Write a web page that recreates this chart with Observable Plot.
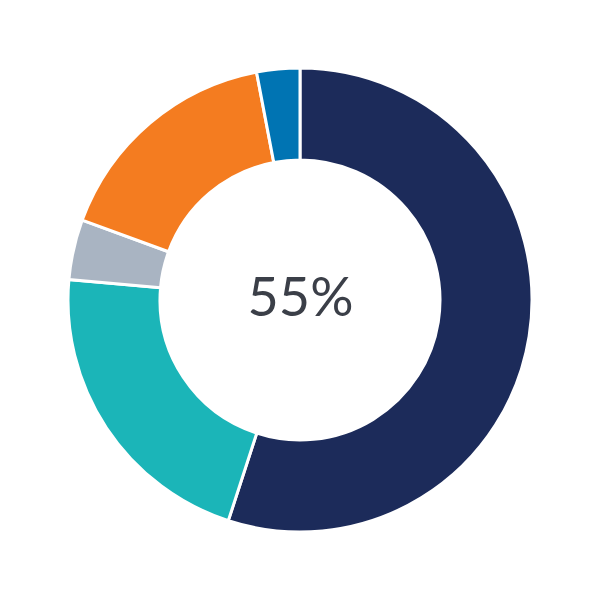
<!DOCTYPE html>
<html>
<head>
<meta charset="utf-8">
<script src="https://cdn.jsdelivr.net/npm/d3@7"></script>
<script src="https://cdn.jsdelivr.net/npm/@observablehq/plot@0.6"></script>
<style>
  html, body { margin: 0; padding: 0; background: #fff; }
</style>
</head>
<body>
<div id="chart"></div>
<script>
const categories = ["A", "B", "C", "D", "E"];
const values = [55, 21.4, 4.2, 16.4, 3.0];
const colors = ["#1c2b5a", "#1bb5b8", "#a9b4c2", "#f47c20", "#0074b3"];
const centerLabel = ["55%"];

const data = categories.map((c, i) => ({category: c, value: values[i]}));
const color = Plot.scale({color: {type: "ordinal", domain: categories, range: colors}});

const donut = (index, scales, vals, dimensions) => {
  const {width, height} = dimensions;
  const cx = width / 2, cy = height / 2;
  const pie = d3.pie().sort(null).value(d => d.value)(data);
  const arc = d3.arc().innerRadius(140).outerRadius(232);
  const g = d3.create("svg:g").attr("transform", `translate(${cx},${cy})`);
  g.selectAll("path")
    .data(pie)
    .join("path")
    .attr("d", arc)
    .attr("fill", d => color.apply(d.data.category))
    .attr("stroke", "#fff")
    .attr("stroke-width", 3)
    .attr("stroke-linejoin", "miter");
  return g.node();
};

const chart = Plot.plot({
  width: 600,
  height: 600,
  margin: 0,
  x: {axis: null},
  y: {axis: null},
  style: {background: "#fff"},
  marks: [
    donut,
    Plot.text(centerLabel, {
      text: d => d,
      frameAnchor: "middle",
      dy: -2,
      fontSize: 54,
      fontFamily: "Lato",
      fill: "#3b3f48"
    })
  ]
});
document.getElementById("chart").append(chart);
</script>
</body>
</html>
